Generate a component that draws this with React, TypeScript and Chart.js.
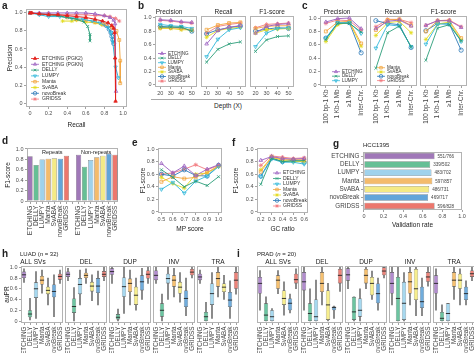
import React, { useEffect, useRef } from 'react';
import { Chart, registerables } from 'chart.js';
import { drawPoint } from 'chart.js/helpers';

Chart.register(...registerables);

const FONT = "'Liberation Sans', Arial, Helvetica, sans-serif";
const TICK_COLOR = '#4d4d4d';
const FRAME_COLOR = '#b3b3b3';
const TICK_FONT = { family: FONT, size: 5.5 };
const AX_FONT = { family: FONT, size: 6.5, lineHeight: 1.2 };

// ---------------- shared ----------------
const TOOLS = ['ETCHING', 'DELLY', 'LUMPY', 'Manta', 'SvABA', 'novoBreak', 'GRIDSS'];
const LINE_COLORS = ['#9b5fc0', '#2a9d78', '#2fb7d9', '#f3a640', '#e3dc22', '#2b78b8', '#f27b80'];
const BAR_COLORS = ['#a078b8', '#66bf95', '#9fd2ec', '#f4bb6c', '#f4ea86', '#62a5da', '#ec776d'];
const BOX_COLORS = ['#b28ccf', '#6cc5a1', '#a6d8ef', '#f6c070', '#f7ee8d', '#70acdc', '#ee8379'];
const POINT_STYLES = ['triangle', 'crossRot', 'triangle', 'rect', 'star', 'circle', 'star'];
const POINT_ROT = [0, 0, 180, 0, 0, 0, 0];

// ---------------- panel a ----------------
const A_LABELS = ['ETCHING (PGK2)', 'ETCHING (PGKN)', 'DELLY', 'LUMPY', 'Manta', 'SvABA', 'novoBreak', 'GRIDSS'];
const A_COLORS = ['#e3211c', '#9b5fc0', '#2a9d78', '#2fb7d9', '#f3a640', '#e3dc22', '#2b78b8', '#f27b80'];
const A_STYLES = ['triangle', 'triangle', 'crossRot', 'triangle', 'rect', 'star', 'circle', 'star'];
const A_ROT = [0, 0, 0, 180, 0, 0, 0, 0];
const A_PGK2_RECALL = [0, 0.02, 0.1, 0.2, 0.3, 0.4, 0.5, 0.6, 0.7, 0.78, 0.84, 0.88, 0.9, 0.91, 0.915, 0.92];
const A_PGK2_PREC = [1.0, 1.0, 0.99, 0.98, 0.98, 0.97, 0.96, 0.95, 0.93, 0.91, 0.89, 0.86, 0.83, 0.78, 0.5, 0.02];
const A_PGKN_RECALL = [0, 0.1, 0.2, 0.3, 0.4, 0.5, 0.6, 0.7, 0.8, 0.86, 0.9, 0.915, 0.925];
const A_PGKN_PREC = [1.0, 1.0, 1.0, 1.0, 1.0, 1.0, 1.0, 0.99, 0.97, 0.95, 0.92, 0.88, 0.13];
const A_DELLY_RECALL = [0, 0.1, 0.2, 0.3, 0.4, 0.5, 0.58, 0.62, 0.645, 0.645];
const A_DELLY_PREC = [1.0, 0.99, 0.98, 0.97, 0.95, 0.93, 0.9, 0.85, 0.76, 0.69];
const A_LUMPY_RECALL = [0, 0.1, 0.2, 0.32, 0.45, 0.57, 0.67, 0.75, 0.84, 0.87, 0.89, 0.92, 0.95];
const A_LUMPY_PREC = [1.0, 0.98, 0.96, 0.96, 0.94, 0.93, 0.91, 0.89, 0.84, 0.78, 0.68, 0.4, 0.28];
const A_MANTA_RECALL = [0, 0.2, 0.4, 0.5, 0.6, 0.7, 0.8, 0.88, 0.93, 0.96, 0.97, 0.97];
const A_MANTA_PREC = [1.0, 0.98, 0.95, 0.93, 0.92, 0.9, 0.87, 0.84, 0.8, 0.7, 0.47, 0.22];
const A_SVABA_RECALL = [0.35, 0.45, 0.5, 0.6, 0.7, 0.77];
const A_SVABA_PREC = [0.91, 0.91, 0.92, 0.9, 0.89, 0.87];
const A_NOVO_RECALL = [0.78, 0.82, 0.85, 0.87, 0.88, 0.89, 0.9];
const A_NOVO_PREC = [0.88, 0.86, 0.82, 0.78, 0.74, 0.7, 0.66];
const A_GRIDSS_RECALL = [0.1, 0.2, 0.3, 0.4, 0.5, 0.6, 0.7, 0.8, 0.86, 0.92, 0.96];
const A_GRIDSS_PREC = [0.99, 0.99, 0.98, 0.98, 0.98, 0.98, 0.97, 0.97, 0.96, 0.94, 0.91];

// ---------------- panel b ----------------
const B_DEPTH = [20, 30, 40, 50];
const B_PRECISION = [
  [0.97, 0.96, 0.94, 0.93],
  [0.86, 0.86, 0.86, 0.8],
  [0.9, 0.88, 0.87, 0.84],
  [0.85, 0.85, 0.84, 0.82],
  [0.84, 0.84, 0.82, 0.82],
  [0.87, 0.86, 0.85, 0.8],
  [0.96, 0.95, 0.93, 0.92],
];
const B_RECALL = [
  [0.61, 0.81, 0.86, 0.88],
  [0.34, 0.53, 0.61, 0.64],
  [0.42, 0.68, 0.82, 0.85],
  [0.82, 0.89, 0.92, 0.93],
  [0.71, 0.81, 0.84, 0.86],
  [0.76, 0.82, 0.85, 0.88],
  [0.77, 0.87, 0.9, 0.92],
];
const B_F1 = [
  [0.77, 0.87, 0.9, 0.91],
  [0.5, 0.67, 0.72, 0.73],
  [0.57, 0.77, 0.84, 0.85],
  [0.84, 0.87, 0.88, 0.88],
  [0.77, 0.82, 0.83, 0.84],
  [0.8, 0.83, 0.85, 0.84],
  [0.85, 0.9, 0.91, 0.92],
];

// ---------------- panel c ----------------
const C_CATS = ['100 bp-1 Kb', '1 Kb-1 Mb', '\u22651 Mb', 'Inter-Chr.'];
const C_PRECISION = [
  [0.94, 0.99, 1.0, 0.84],
  [0.68, 0.92, 0.92, 0.79],
  [0.7, 0.93, 0.93, 0.77],
  [0.8, 0.94, 0.95, 0.62],
  [0.65, 0.9, 0.94, 0.58],
  [0.7, 0.92, 0.93, 0.48],
  [0.92, 0.97, 0.96, 0.82],
];
const C_RECALL = [
  [0.84, 0.95, 0.97, 0.88],
  [0.25, 0.78, 0.88, 0.57],
  [0.55, 0.9, 0.88, 0.57],
  [0.82, 0.97, 0.98, 0.89],
  [0.74, 0.93, 0.95, 0.78],
  [0.96, 0.92, 0.9, 0.56],
  [0.87, 0.98, 0.98, 0.93],
];
const C_F1 = [
  [0.89, 0.96, 0.96, 0.86],
  [0.37, 0.85, 0.9, 0.66],
  [0.61, 0.91, 0.91, 0.65],
  [0.8, 0.96, 0.96, 0.7],
  [0.68, 0.91, 0.94, 0.67],
  [0.81, 0.92, 0.91, 0.52],
  [0.89, 0.96, 0.97, 0.87],
];

// ---------------- panel d ----------------
const D_REPEATS = [0.86, 0.69, 0.8, 0.81, 0.82, 0.81, 0.87];
const D_NONREPEATS = [0.89, 0.66, 0.79, 0.84, 0.87, 0.91, 0.89];

// ---------------- panel e ----------------
const E_MP = [0.5, 0.6, 0.7, 0.8, 0.9, 1.0];
const E_F1 = [
  [0.77, 0.62, 0.73, 0.58, 0.68, 0.75],
  [0.67, 0.55, 0.4, 0.49, 0.42, 0.56],
  [0.36, 0.47, 0.3, 0.49, 0.57, 0.72],
  [0.48, 0.56, 0.53, 0.55, 0.63, 0.73],
  [0.55, 0.45, 0.38, 0.6, 0.62, 0.72],
  [0.6, 0.57, 0.67, 0.58, 0.57, 0.74],
  [0.6, 0.62, 0.68, 0.75, 0.67, 0.74],
];

// ---------------- panel f ----------------
const F_GC = [0.2, 0.3, 0.4, 0.5, 0.6];
const F_F1 = [
  [0.82, 0.88, 0.85, 0.84, 0.85],
  [0.44, 0.85, 0.8, 0.81, 0.82],
  [0.56, 0.84, 0.79, 0.79, 0.76],
  [0.64, 0.87, 0.84, 0.83, 0.83],
  [0.67, 0.87, 0.82, 0.8, 0.8],
  [0.57, 0.86, 0.8, 0.82, 0.79],
  [0.74, 0.89, 0.87, 0.85, 0.86],
];

// ---------------- panel g ----------------
const G_VALIDATED = [551, 339, 483, 597, 486, 469, 596];
const G_TOTAL = [766, 502, 702, 857, 731, 717, 828];

// ---------------- panels h / i : [min, q1, median, q3, max] per tool ----------------
const SV_TYPES = ['ALL SVs', 'DEL', 'DUP', 'INV', 'TRA'];
const LUAD_ALL = [[0.72, 0.8, 0.86, 0.92, 0.97], [0.02, 0.07, 0.13, 0.2, 0.42], [0.05, 0.43, 0.6, 0.72, 0.92], [0.52, 0.68, 0.76, 0.84, 0.95], [0.3, 0.5, 0.57, 0.64, 0.8], [0.08, 0.44, 0.55, 0.68, 0.86], [0.7, 0.77, 0.83, 0.88, 0.95]];
const LUAD_DEL = [[0.75, 0.82, 0.87, 0.92, 0.98], [0.0, 0.15, 0.27, 0.42, 0.62], [0.3, 0.5, 0.68, 0.8, 0.95], [0.7, 0.8, 0.85, 0.9, 0.97], [0.38, 0.55, 0.65, 0.73, 0.86], [0.3, 0.52, 0.65, 0.8, 0.93], [0.75, 0.82, 0.87, 0.93, 1.0]];
const LUAD_DUP = [[0.7, 0.86, 0.92, 0.98, 1.0], [0.0, 0.03, 0.07, 0.13, 0.22], [0.14, 0.45, 0.64, 0.81, 1.0], [0.3, 0.54, 0.7, 0.79, 0.95], [0.2, 0.3, 0.48, 0.64, 0.8], [0.4, 0.57, 0.73, 0.85, 0.98], [0.7, 0.79, 0.87, 0.94, 1.0]];
const LUAD_INV = [[0.7, 0.76, 0.85, 0.94, 1.0], [0.0, 0.08, 0.2, 0.33, 0.5], [0.4, 0.7, 0.79, 0.88, 1.0], [0.45, 0.64, 0.76, 0.85, 0.98], [0.35, 0.51, 0.63, 0.73, 0.9], [0.1, 0.26, 0.42, 0.57, 0.8], [0.8, 0.85, 0.91, 0.97, 1.0]];
const LUAD_TRA = [[0.7, 0.76, 0.82, 0.88, 0.95], [0.0, 0.0, 0.08, 0.17, 0.35], [0.05, 0.3, 0.51, 0.7, 0.9], [0.45, 0.64, 0.79, 0.91, 1.0], [0.4, 0.54, 0.63, 0.7, 0.85], [0.05, 0.26, 0.39, 0.54, 0.75], [0.5, 0.6, 0.76, 0.91, 1.0]];
const PRAD_ALL = [[0.2, 0.51, 0.7, 0.82, 0.94], [0.0, 0.0, 0.11, 0.33, 0.45], [0.0, 0.0, 0.08, 0.2, 0.23], [0.51, 0.6, 0.76, 0.85, 0.94], [0.11, 0.3, 0.42, 0.57, 0.73], [0.15, 0.2, 0.33, 0.42, 0.5], [0.6, 0.7, 0.77, 0.88, 0.97]];
const PRAD_DEL = [[0.2, 0.57, 0.73, 0.91, 1.0], [0.0, 0.0, 0.14, 0.33, 0.6], [0.0, 0.0, 0.08, 0.4, 0.76], [0.3, 0.54, 0.7, 0.91, 1.0], [0.0, 0.02, 0.3, 0.57, 0.7], [0.05, 0.2, 0.25, 0.27, 0.28], [0.55, 0.7, 0.85, 0.97, 1.0]];
const PRAD_DUP = [[0.6, 0.75, 0.86, 0.98, 1.0], [0.0, 0.02, 0.17, 0.45, 0.45], [0.0, 0.08, 0.2, 0.42, 0.6], [0.6, 0.7, 0.85, 0.97, 1.0], [0.4, 0.48, 0.7, 0.82, 0.93], [0.2, 0.33, 0.51, 0.7, 0.8], [0.8, 0.85, 0.93, 1.0, 1.0]];
const PRAD_INV = [[0.3, 0.51, 0.7, 0.91, 1.0], [0.0, 0.0, 0.42, 0.82, 1.0], [0.0, 0.02, 0.33, 0.73, 0.9], [0.3, 0.51, 0.73, 0.91, 1.0], [0.1, 0.39, 0.6, 0.97, 1.0], [0.1, 0.24, 0.36, 0.64, 0.8], [0.65, 0.73, 0.82, 0.91, 1.0]];
const PRAD_TRA = [[0.2, 0.51, 0.7, 0.85, 0.97], [0.0, 0.0, 0.05, 0.17, 0.3], [0.0, 0.0, 0.14, 0.33, 0.33], [0.4, 0.64, 0.76, 0.91, 1.0], [0.3, 0.6, 0.76, 0.88, 0.97], [0.3, 0.39, 0.51, 0.64, 0.75], [0.75, 0.82, 0.88, 0.94, 1.0]];

const TICKS01 = [0, 0.2, 0.4, 0.6, 0.8, 1.0];

// ---------------- helpers ----------------
type Rect = { left: number; top: number; width: number; height: number };
type Place = { rect: Rect; layout: any; yw: number; xh: number; ox: number; oy: number };
type Spec = { key: string; rect: Rect; make: () => any };

function place(frame: number[], o: any): Place {
  const yw = o.yw ?? 0, xh = o.xh ?? 0, padL = o.padL ?? 0, padT = o.padT ?? 3, padR = o.padR ?? 3, padB = o.padB ?? 0, titleH = o.titleH ?? 0;
  const [l, t, r, b] = frame;
  const left = l - yw - padL;
  const top = t - titleH - padT;
  return {
    rect: { left, top, width: r + padR - left, height: b + xh + padB - top },
    layout: { autoPadding: false, padding: { left: padL, top: padT, right: padR, bottom: padB } },
    yw, xh, ox: left, oy: top,
  };
}

function zeroPad(s: any) {
  s.paddingLeft = 0; s.paddingRight = 0; s.paddingTop = 0; s.paddingBottom = 0;
}

const fmt01 = (v: number) => (v === 0 ? '0' : v.toFixed(1));

const GRID = { display: true, drawOnChartArea: false, drawTicks: true, tickLength: 2, color: '#8a8a8a', tickColor: '#8a8a8a', lineWidth: 0.8, offset: false };

function linAxis(p: Place, axis: 'x' | 'y', o: any) {
  return {
    type: 'linear', position: axis === 'x' ? 'bottom' : 'left',
    min: o.min, max: o.max, display: o.display ?? true,
    afterBuildTicks: (s: any) => { s.ticks = o.ticks.map((v: number) => ({ value: v })); },
    afterFit: (s: any) => { if (axis === 'x') s.height = p.xh; else s.width = p.yw; zeroPad(s); },
    grid: GRID, border: { display: false },
    ticks: { display: o.labels ?? true, font: TICK_FONT, color: TICK_COLOR, padding: 1.5, autoSkip: false, maxRotation: 0, callback: (v: any) => (o.fmt ?? fmt01)(Number(v)) },
    title: o.title ? { display: true, text: o.title, font: AX_FONT, color: '#222', padding: 0 } : { display: false },
  };
}

function catAxis(p: Place, axis: 'x' | 'y', o: any) {
  const rot = o.rotate ? 90 : 0;
  return {
    type: 'category', position: axis === 'x' ? 'bottom' : 'left', offset: o.offset ?? true,
    afterFit: (s: any) => { if (axis === 'x') s.height = p.xh; else s.width = p.yw; zeroPad(s); },
    grid: GRID, border: { display: false },
    ticks: { display: o.labels ?? true, font: { family: FONT, size: o.size ?? 6.5 }, color: '#444', padding: o.padding ?? 1.5, autoSkip: false, minRotation: rot, maxRotation: rot },
    title: o.title ? { display: true, text: o.title, font: AX_FONT, color: '#222', padding: 0 } : { display: false },
  };
}

const framePlugin = {
  id: 'frame',
  beforeDatasetsDraw(chart: any) {
    const a = chart.chartArea; const ctx = chart.ctx;
    ctx.save(); ctx.strokeStyle = FRAME_COLOR; ctx.lineWidth = 1;
    ctx.strokeRect(Math.round(a.left) + 0.5, Math.round(a.top) + 0.5, Math.round(a.right - a.left) - 1, Math.round(a.bottom - a.top) - 1);
    ctx.restore();
  },
};

const legendPlugin = {
  id: 'inlegend',
  afterDraw(chart: any, _a: any, opts: any) {
    if (!opts || !opts.items) return;
    const ctx = chart.ctx;
    ctx.save();
    opts.items.forEach((it: any, i: number) => {
      const y = opts.y + i * opts.dy;
      ctx.strokeStyle = it.color; ctx.lineWidth = 0.8;
      ctx.beginPath(); ctx.moveTo(opts.x - opts.len / 2, y); ctx.lineTo(opts.x + opts.len / 2, y); ctx.stroke();
      ctx.fillStyle = it.fill; ctx.strokeStyle = it.color;
      drawPoint(ctx, { pointStyle: it.style, rotation: it.rot, radius: opts.r, borderWidth: 0.8 } as any, opts.x, y);
      ctx.fillStyle = '#333'; ctx.font = `${opts.size}px ${FONT}`; ctx.textBaseline = 'middle'; ctx.textAlign = 'left';
      ctx.fillText(it.text, opts.tx, y);
    });
    ctx.restore();
  },
};

const barTextPlugin = {
  id: 'barText',
  afterDatasetsDraw(chart: any, _a: any, opts: any) {
    if (!opts || !opts.labels) return;
    const meta = chart.getDatasetMeta(0); const ctx = chart.ctx;
    ctx.save(); ctx.font = `${opts.size}px ${FONT}`; ctx.fillStyle = '#444'; ctx.textBaseline = 'middle'; ctx.textAlign = 'left';
    meta.data.forEach((el: any, i: number) => { ctx.fillText(opts.labels[i], el.x + 3, el.y + 0.5); });
    ctx.restore();
  },
};

function baseOptions(p: Place, scales: any, plugins: any = {}) {
  return {
    responsive: false, maintainAspectRatio: false, animation: false, devicePixelRatio: 1, events: [],
    layout: p.layout, scales,
    plugins: { legend: { display: false }, tooltip: { enabled: false }, title: { display: false }, ...plugins },
  };
}

function subTitle(text: string) {
  return { display: true, text, font: { family: FONT, size: 6.5, lineHeight: 1.2, weight: 'normal' }, color: '#222', padding: { top: 0, bottom: 0.2 } };
}

function toolLine(i: number, data: any[], extra: any = {}) {
  return {
    label: TOOLS[i], data,
    borderColor: LINE_COLORS[i], backgroundColor: LINE_COLORS[i],
    pointStyle: POINT_STYLES[i], pointRotation: POINT_ROT[i], pointRadius: 2.1,
    pointBorderWidth: 0.8, pointBackgroundColor: 'rgba(255,255,255,0)', pointBorderColor: LINE_COLORS[i],
    borderWidth: 0.9, clip: false, tension: 0, ...extra,
  };
}

function toolItems(idx: number[]) {
  return idx.map((i) => ({ text: TOOLS[i], color: LINE_COLORS[i], style: POINT_STYLES[i], rot: POINT_ROT[i], fill: 'rgba(255,255,255,0)' }));
}

function legendOpts(p: Place, items: any[], x: number, y: number, dy: number, tx: number, size: number) {
  return { items, x: x - p.ox, y: y - p.oy, dy, tx: tx - p.ox, size, len: 8, r: 1.8 };
}

// ---------------- specs ----------------
function buildSpecs(): Spec[] {
  const specs: Spec[] = [];

  // a
  {
    const p = place([26, 9, 127, 107], { yw: 20, padL: 6, padT: 9, xh: 22, padR: 3 });
    const pairs = [
      [A_PGK2_RECALL, A_PGK2_PREC], [A_PGKN_RECALL, A_PGKN_PREC], [A_DELLY_RECALL, A_DELLY_PREC],
      [A_LUMPY_RECALL, A_LUMPY_PREC], [A_MANTA_RECALL, A_MANTA_PREC], [A_SVABA_RECALL, A_SVABA_PREC],
      [A_NOVO_RECALL, A_NOVO_PREC], [A_GRIDSS_RECALL, A_GRIDSS_PREC],
    ];
    specs.push({
      key: 'a', rect: p.rect, make: () => ({
        type: 'line',
        data: {
          datasets: pairs.map(([r, pr], k) => ({
            label: A_LABELS[k], data: r.map((v, j) => ({ x: v, y: pr[j] })),
            borderColor: A_COLORS[k], pointBorderColor: A_COLORS[k],
            pointBackgroundColor: k === 0 ? A_COLORS[k] : 'rgba(255,255,255,0)',
            pointStyle: A_STYLES[k], pointRotation: A_ROT[k], pointRadius: 2, pointBorderWidth: 0.8,
            borderWidth: 1, clip: false, order: k === 0 ? 0 : 1,
          })),
        },
        options: baseOptions(p, {
          x: linAxis(p, 'x', { min: -0.043, max: 1.043, ticks: TICKS01, title: 'Recall' }),
          y: linAxis(p, 'y', { min: -0.044, max: 1.044, ticks: TICKS01, title: 'Precision' }),
        }, {
          inlegend: legendOpts(p, A_LABELS.map((t, k) => ({ text: t, color: A_COLORS[k], style: A_STYLES[k], rot: A_ROT[k], fill: k === 0 ? A_COLORS[k] : 'rgba(255,255,255,0)' })), 35, 58.5, 5.8, 42, 5),
        }),
        plugins: [framePlugin, legendPlugin],
      }),
    });
  }

  // b
  const bFrames = [[155, 16, 197, 87], [201, 16, 246, 87], [250, 16, 294, 87]];
  const bData = [B_PRECISION, B_RECALL, B_F1];
  const bTitles = ['Precision', 'Recall', 'F1-score'];
  bFrames.forEach((fr, k) => {
    const p = place(fr, { yw: k === 0 ? 14 : 0, xh: 12, titleH: 8, padT: 0, padR: 1 });
    specs.push({
      key: 'b' + k, rect: p.rect, make: () => ({
        type: 'line',
        data: { datasets: bData[k].map((row, i) => toolLine(i, row.map((v, j) => ({ x: B_DEPTH[j], y: v })))) },
        options: baseOptions(p, {
          x: linAxis(p, 'x', { min: 15, max: 55, ticks: B_DEPTH, fmt: (v: number) => String(v) }),
          y: linAxis(p, 'y', { min: -0.03, max: 1.025, ticks: TICKS01, display: k === 0 }),
        }, {
          title: subTitle(bTitles[k]),
          ...(k === 0 ? { inlegend: legendOpts(p, toolItems([0, 1, 2, 3, 4, 5, 6]), 162, 53.5, 4.6, 168, 4.6) } : {}),
        }),
        plugins: [framePlugin, legendPlugin],
      }),
    });
  });

  // c
  const cFrames = [[320, 16, 367, 86], [370, 16, 417, 86], [420, 16, 467, 86]];
  const cData = [C_PRECISION, C_RECALL, C_F1];
  cFrames.forEach((fr, k) => {
    const p = place(fr, { yw: k === 0 ? 13 : 0, xh: 44, titleH: 8, padT: 0, padR: k === 2 ? 4 : 1 });
    const legend = k === 0
      ? { inlegend: legendOpts(p, toolItems([0, 1, 2]), 336, 71.7, 4.5, 342, 4.6) }
      : k === 1 ? { inlegend: legendOpts(p, toolItems([3, 4, 5, 6]), 381, 67.7, 4.3, 387, 4.6) } : {};
    specs.push({
      key: 'c' + k, rect: p.rect, make: () => ({
        type: 'line',
        data: { labels: C_CATS, datasets: cData[k].map((row, i) => toolLine(i, row)) },
        options: baseOptions(p, {
          x: catAxis(p, 'x', { rotate: true, size: 6.3, offset: true }),
          y: linAxis(p, 'y', { min: -0.015, max: 1.03, ticks: TICKS01, display: k === 0 }),
        }, { title: subTitle(bTitles[k]), ...legend }),
        plugins: [framePlugin, legendPlugin],
      }),
    });
  });

  // d
  {
    const p = place([27, 148, 118, 202], { yw: 23, padL: 4, xh: 46, padT: 4 });
    specs.push({
      key: 'd', rect: p.rect, make: () => ({
        type: 'bar',
        data: {
          labels: [...TOOLS, '', ...TOOLS],
          datasets: [{
            data: [...D_REPEATS, null, ...D_NONREPEATS],
            backgroundColor: [...BAR_COLORS, '#fff', ...BAR_COLORS],
            borderColor: '#555', borderWidth: 0.5, borderSkipped: false,
            barPercentage: 0.86, categoryPercentage: 1,
          }],
        },
        options: baseOptions(p, {
          x: catAxis(p, 'x', { rotate: true, size: 6.6 }),
          y: linAxis(p, 'y', { min: -0.019, max: 1.019, ticks: TICKS01, title: 'F1-score' }),
        }),
        plugins: [framePlugin],
      }),
    });
  }

  // e
  {
    const p = place([158, 148, 222, 213], { yw: 19, padL: 0, xh: 20, padT: 4 });
    specs.push({
      key: 'e', rect: p.rect, make: () => ({
        type: 'line',
        data: { datasets: E_F1.map((row, i) => toolLine(i, row.map((v, j) => ({ x: E_MP[j], y: v })))) },
        options: baseOptions(p, {
          x: linAxis(p, 'x', { min: 0.47, max: 1.03, ticks: E_MP, fmt: (v: number) => v.toFixed(1), title: 'MP score' }),
          y: linAxis(p, 'y', { min: -0.016, max: 1.016, ticks: TICKS01, title: 'F1-score' }),
        }),
        plugins: [framePlugin],
      }),
    });
  }

  // f
  {
    const p = place([257, 148, 308, 213], { yw: 25, padL: 0, xh: 20, padT: 4 });
    specs.push({
      key: 'f', rect: p.rect, make: () => ({
        type: 'line',
        data: { datasets: F_F1.map((row, i) => toolLine(i, row.map((v, j) => ({ x: F_GC[j], y: v })))) },
        options: baseOptions(p, {
          x: linAxis(p, 'x', { min: 0.165, max: 0.635, ticks: F_GC, fmt: (v: number) => v.toFixed(1), title: 'GC ratio' }),
          y: linAxis(p, 'y', { min: -0.016, max: 1.016, ticks: TICKS01, title: 'F1-score' }),
        }, { inlegend: legendOpts(p, toolItems([0, 1, 2, 3, 4, 5, 6]), 277, 173, 5.5, 283, 5) }),
        plugins: [framePlugin, legendPlugin],
      }),
    });
  }

  // g
  {
    const p = place([363, 152, 462, 210], { yw: 42, xh: 19, padT: 4, padR: 8 });
    specs.push({
      key: 'g', rect: p.rect, make: () => ({
        type: 'bar',
        data: {
          labels: TOOLS,
          datasets: [{
            data: G_VALIDATED.map((v, i) => v / G_TOTAL[i]),
            backgroundColor: BAR_COLORS, borderColor: '#555', borderWidth: 0.5, borderSkipped: false,
            barPercentage: 0.78, categoryPercentage: 1,
          }],
        },
        options: {
          ...baseOptions(p, {
            x: linAxis(p, 'x', { min: -0.01, max: 1.0, ticks: TICKS01, title: 'Validation rate' }),
            y: catAxis(p, 'y', { size: 6.3 }),
          }, { barText: { labels: G_VALIDATED.map((v, i) => `${v}/${G_TOTAL[i]}`), size: 4.6 } }),
          indexAxis: 'y',
        },
        plugins: [framePlugin, barTextPlugin],
      }),
    });
  }

  // h & i
  const luad = [LUAD_ALL, LUAD_DEL, LUAD_DUP, LUAD_INV, LUAD_TRA];
  const prad = [PRAD_ALL, PRAD_DEL, PRAD_DUP, PRAD_INV, PRAD_TRA];
  const boxSpec = (key: string, frame: number[], stats: number[][], title: string, showY: boolean) => {
    const p = place(frame, { yw: showY ? 18 : 0, padL: showY ? 3 : 0, xh: 32, titleH: 8, padT: 0, padR: 1 });
    specs.push({
      key, rect: p.rect, make: () => ({
        type: 'bar',
        data: {
          labels: TOOLS,
          datasets: [
            { type: 'bar', data: stats.map((s) => [s[0], s[4]]), backgroundColor: '#6a6a6a', barThickness: 0.9, grouped: false, order: 3 },
            { type: 'bar', data: stats.map((s) => [s[1], s[3]]), backgroundColor: BOX_COLORS, borderColor: '#555', borderWidth: 0.6, borderSkipped: false, barPercentage: 0.72, categoryPercentage: 1, grouped: false, order: 2 },
            { type: 'line', data: stats.map((s) => s[2]), showLine: false, pointStyle: 'line', pointRadius: 2.1, pointBorderColor: '#222', borderColor: '#222', pointBorderWidth: 0.9, order: 1 },
          ],
        },
        options: baseOptions(p, {
          x: catAxis(p, 'x', { rotate: true, size: 6.3 }),
          y: linAxis(p, 'y', { min: -0.037, max: 1.024, ticks: TICKS01, display: showY, title: showY ? 'auPR' : undefined }),
        }, { title: subTitle(title) }),
        plugins: [framePlugin],
      }),
    });
  };
  SV_TYPES.forEach((t, k) => {
    boxSpec('h' + k, [21 + k * 44, 266, 63 + k * 44, 323], luad[k], t, k === 0);
    boxSpec('i' + k, [257 + k * 44, 266, 299 + k * 44, 323], prad[k], t, false);
  });

  return specs;
}

const SPECS = buildSpecs();

function ChartCanvas({ spec }: { spec: Spec }) {
  const ref = useRef<HTMLCanvasElement | null>(null);
  useEffect(() => {
    if (!ref.current) return;
    const chart = new Chart(ref.current, spec.make());
    return () => chart.destroy();
  }, [spec]);
  const r = spec.rect;
  return (
    <canvas ref={ref} width={Math.round(r.width)} height={Math.round(r.height)}
      style={{ position: 'absolute', left: r.left, top: r.top, width: Math.round(r.width), height: Math.round(r.height) }} />
  );
}

function Txt({ x, y, s = 6.5, b = false, mid = false, children }: any) {
  return (
    <div style={{
      position: 'absolute', left: x, top: y, transform: `translate(${mid ? '-50%' : '0'}, -50%)`,
      fontSize: s, fontWeight: b ? 700 : 400, lineHeight: 1, whiteSpace: 'nowrap', color: '#222', fontFamily: FONT,
    }}>{children}</div>
  );
}

export default function App() {
  return (
    <div style={{ position: 'fixed', left: 0, top: 0, width: 474, height: 353, overflow: 'hidden', background: '#fff' }}>
      {SPECS.map((s) => <ChartCanvas key={s.key} spec={s} />)}
      <Txt x={2} y={6} s={10} b>a</Txt>
      <Txt x={138} y={6} s={10} b>b</Txt>
      <Txt x={302} y={6} s={10} b>c</Txt>
      <Txt x={2} y={141} s={10} b>d</Txt>
      <Txt x={132} y={143} s={10} b>e</Txt>
      <Txt x={232} y={143} s={10} b>f</Txt>
      <Txt x={333} y={144} s={10} b>g</Txt>
      <Txt x={2} y={254} s={10} b>h</Txt>
      <Txt x={237} y={254} s={10} b>i</Txt>
      <div style={{ position: 'absolute', left: 151, top: 99, width: 143, height: 1, background: '#a8a8a8' }} />
      <Txt x={228} y={106} s={6.5} mid>Depth (X)</Txt>
      <Txt x={42} y={152.5} s={5.5}>Repeats</Txt>
      <Txt x={81} y={152.5} s={5.5}>Non-repeats</Txt>
      <Txt x={363} y={145} s={6}>HCC1395</Txt>
      <Txt x={20} y={254} s={6}>LUAD (<i>n</i> = 32)</Txt>
      <Txt x={257} y={254} s={6}>PRAD (<i>n</i> = 20)</Txt>
    </div>
  );
}
